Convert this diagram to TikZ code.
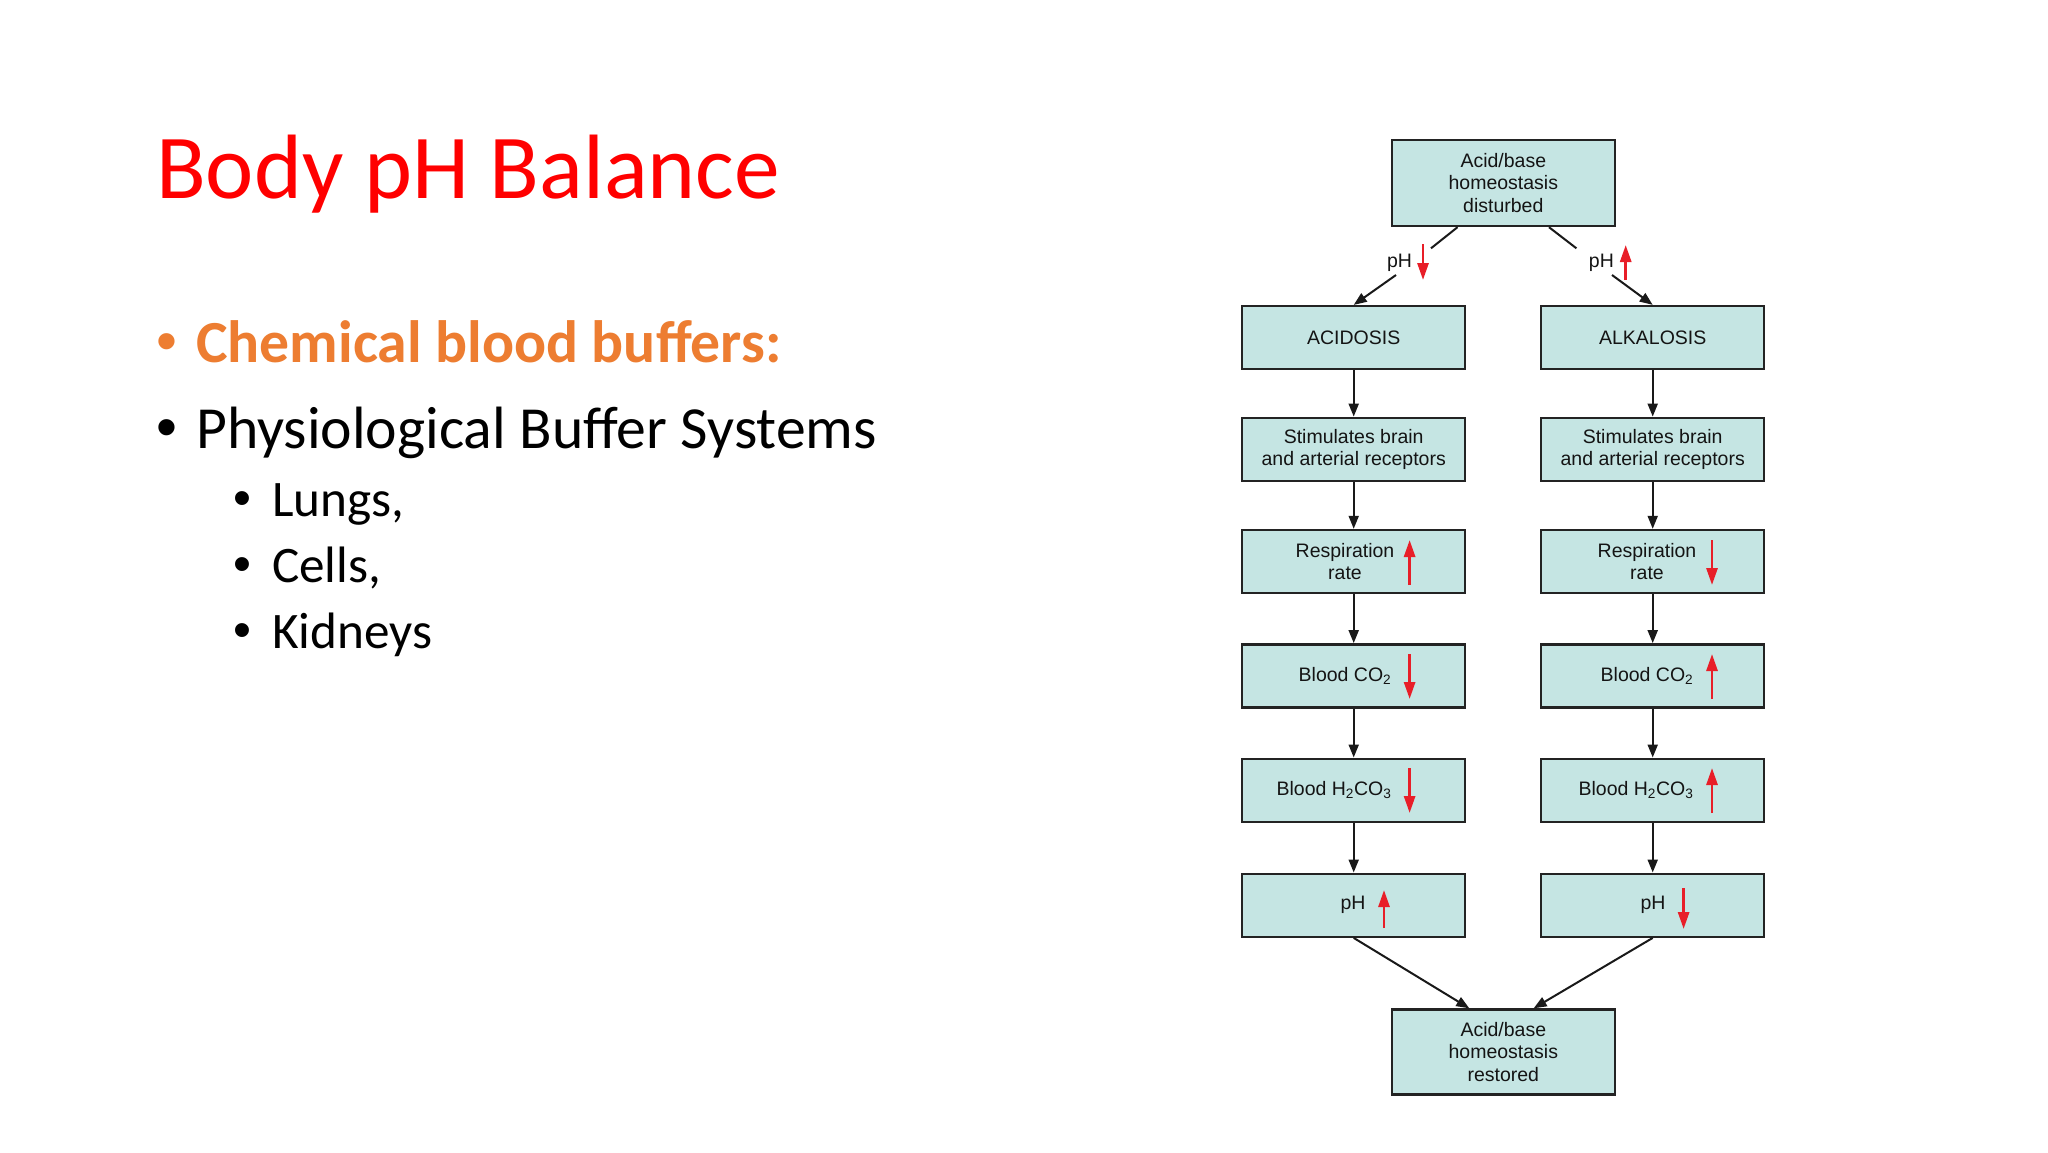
\documentclass[tikz,border=0pt]{standalone}
\usepackage{fontspec}
\setmainfont{Liberation Sans}
\newfontfamily\calibri{Carlito}
\newfontfamily\arialf{Liberation Sans}
\usetikzlibrary{arrows.meta}
\definecolor{boxfill}{RGB}{197,229,227}
\definecolor{titlered}{RGB}{255,0,0}
\definecolor{orangeT}{RGB}{237,125,49}
\definecolor{arrred}{RGB}{232,30,40}
\definecolor{edgec}{RGB}{35,35,35}
\begin{document}
\begin{tikzpicture}[x=1pt,y=-1pt,
  box/.style={draw=edgec, line width=2.4pt, fill=boxfill, minimum width=223pt, minimum height=63pt, inner sep=0pt},
  bigbox/.style={box, minimum height=86pt},
  lbl/.style={font=\fontsize{19.5}{22.5}\selectfont, align=center, inner sep=0pt, text=black!92},
  conn/.style={draw=black!90, line width=2pt, -{Triangle[length=13pt,width=10pt]}},
  plainline/.style={draw=black!90, line width=2pt},
  redarrow/.style={draw=arrred, line width=2.8pt, -{Triangle[length=17pt,width=11pt]}},
  slidetext/.style={anchor=base west, inner sep=0pt, font=\calibri\fontsize{59.7}{70}\selectfont},
  subtext/.style={anchor=base west, inner sep=0pt, font=\calibri\fontsize{51.2}{60}\selectfont},
  bul/.style={anchor=base west, inner sep=0pt, font=\arialf\fontsize{59.7}{70}\selectfont},
  subbul/.style={anchor=base west, inner sep=0pt, font=\arialf\fontsize{51.2}{60}\selectfont}
]
\useasboundingbox (0,0) rectangle (2048,1152);
\fill[white] (0,0) rectangle (2048,1152);

% ---- slide text ----
\node[anchor=base west, inner sep=0pt, font=\calibri\fontsize{91.4}{110}\selectfont, text=titlered] (title) at (156,198) {Body pH Balance};
\node[bul, text=orangeT] (b1) at (156,361) {•};
\node[slidetext, text=orangeT, font=\calibri\bfseries\fontsize{59.7}{70}\selectfont] (t1) at (196,362) {Chemical blood buffers:};
\node[bul] (b2) at (156,447) {•};
\node[slidetext] (t2) at (196,448) {Physiological Buffer Systems};
\node[subbul] (b3) at (233,515) {•};
\node[subtext] (t3) at (272,516) {Lungs,};
\node[subbul] (b4) at (233,581) {•};
\node[subtext] (t4) at (272,582) {Cells,};
\node[subbul] (b5) at (233,647) {•};
\node[subtext] (t5) at (272,648) {Kidneys};

% ---- boxes ----
\node[bigbox] (top) at (1503.3,183) {};
\node[lbl] at (top.center) {Acid/base\\homeostasis\\disturbed};

\node[box] (acid) at (1353.7,337.6) {};
\node[lbl] at (acid.center) {ACIDOSIS};
\node[box] (alk) at (1652.7,337.6) {};
\node[lbl] at (alk.center) {ALKALOSIS};

\node[box] (stimL) at (1353.7,449.3) {};
\node[lbl] at (stimL.center) {Stimulates brain\\and arterial receptors};
\node[box] (stimR) at (1652.7,449.3) {};
\node[lbl] at (stimR.center) {Stimulates brain\\and arterial receptors};

\node[box] (resL) at (1353.7,561.5) {};
\node[lbl] at (1345,561.5) {Respiration\\rate};
\node[box] (resR) at (1652.7,561.5) {};
\node[lbl] at (1647,561.5) {Respiration\\rate};

\node[box] (co2L) at (1353.7,675.8) {};
\node[lbl] at (1345,675.8) {Blood CO\textsubscript{2}};
\node[box] (co2R) at (1652.7,675.8) {};
\node[lbl] at (1647,675.8) {Blood CO\textsubscript{2}};

\node[box] (hL) at (1353.7,790.2) {};
\node[lbl] at (1334,790.2) {Blood H\textsubscript{2}CO\textsubscript{3}};
\node[box] (hR) at (1652.7,790.2) {};
\node[lbl] at (1636,790.2) {Blood H\textsubscript{2}CO\textsubscript{3}};

\node[box] (phL) at (1353.7,905.2) {};
\node[lbl] at (1353,905.2) {pH};
\node[box] (phR) at (1652.7,905.2) {};
\node[lbl] at (1653,905.2) {pH};

\node[bigbox, minimum height=85pt] (rest) at (1503.3,1052) {};
\node[lbl] at (rest.center) {Acid/base\\homeostasis\\restored};

% ---- top branch labels ----
\node[lbl] (phDown) at (1399.6,262.7) {pH};
\node[lbl] (phUp) at (1601.4,262.7) {pH};
\coordinate (tl1) at (1431,248.3);
\coordinate (tl2) at (1396,275);
\coordinate (tr1) at (1576.4,248.3);
\coordinate (tr2) at (1612,275);

\draw[plainline] ([xshift=-45.8pt]top.south) -- (tl1);
\draw[conn] (tl2) -- (acid.north);
\draw[plainline] ([xshift=45.7pt]top.south) -- (tr1);
\draw[conn] (tr2) -- (alk.north);

% ---- vertical connectors ----
\draw[conn] (acid) -- (stimL);
\draw[conn] (stimL) -- (resL);
\draw[conn] (resL) -- (co2L);
\draw[conn] (co2L) -- (hL);
\draw[conn] (hL) -- (phL);
\draw[conn] (alk) -- (stimR);
\draw[conn] (stimR) -- (resR);
\draw[conn] (resR) -- (co2R);
\draw[conn] (co2R) -- (hR);
\draw[conn] (hR) -- (phR);

\draw[conn] (phL.south) -- ([xshift=-34pt]rest.north);
\draw[conn] (phR.south) -- ([xshift=30.3pt]rest.north);

% ---- red arrows ----
\draw[redarrow] (1423,244) -- (1423,280);
\draw[redarrow] (1625.7,280) -- (1625.7,245);
\draw[redarrow] (1409.6,585) -- (1409.6,540);
\draw[redarrow] (1712,540) -- (1712,585);
\draw[redarrow] (1409.6,654) -- (1409.6,699);
\draw[redarrow] (1712,699) -- (1712,654);
\draw[redarrow] (1409.6,768) -- (1409.6,813);
\draw[redarrow] (1712,813) -- (1712,768);
\draw[redarrow] (1384,928) -- (1384,890);
\draw[redarrow] (1683.6,888) -- (1683.6,929);
\end{tikzpicture}
\end{document}
